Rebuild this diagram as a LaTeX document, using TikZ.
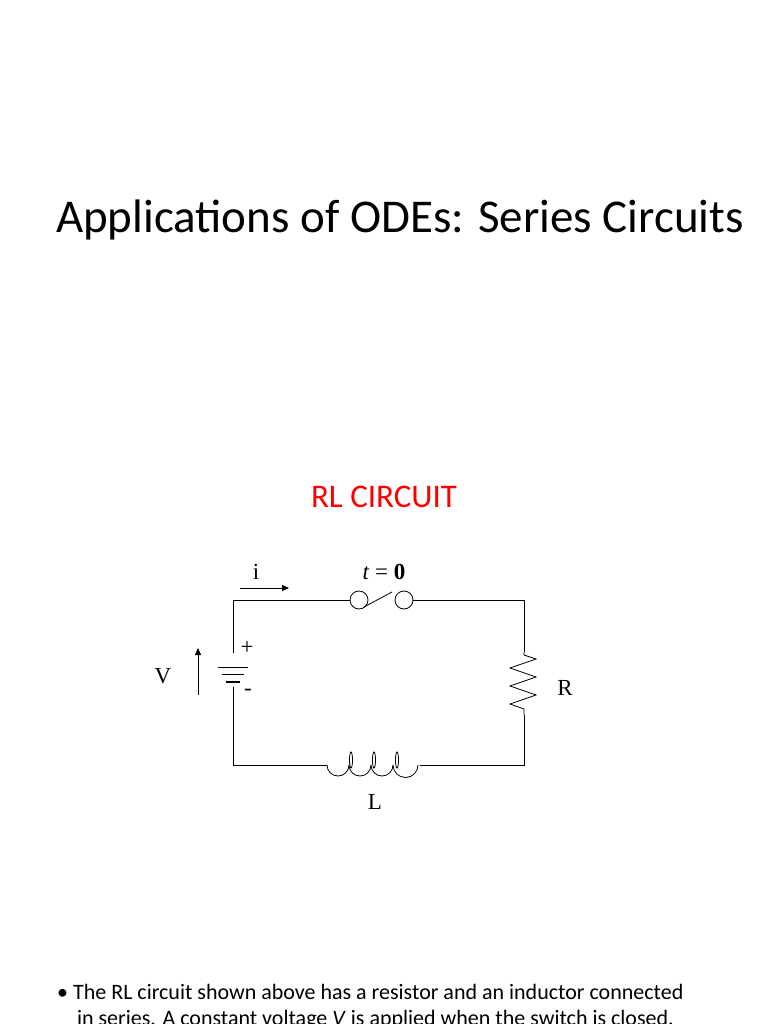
\documentclass[tikz,border=0pt]{standalone}
\usepackage{fontspec}
\setmainfont{Carlito}
\newfontfamily\circfont{Liberation Serif}
\usetikzlibrary{arrows.meta}
\tikzset{
  wire/.style = {line width = 0.8pt},
  serif/.style = {font = \fontsize{23}{23}\circfont}
}
\begin{document}
\begin{tikzpicture}[x = 1pt, y = -1pt]
\useasboundingbox (0,0) rectangle (768,1024);

\node (title) at (400,220) {\fontsize{47}{47}\selectfont Applications of ODEs: Series Circuits};
\node[text = red] (sub) at (384,497) {\fontsize{33}{33}\selectfont RL CIRCUIT};

% corners and component ends
\coordinate (tl) at (233,600);
\coordinate (tr) at (524,600);
\coordinate (bl) at (233,765);
\coordinate (br) at (524,765);
\coordinate (sw1) at (350,600);
\coordinate (sw2) at (413,600);
\coordinate (rtop) at (524,652);
\coordinate (rbot) at (524,715);
\coordinate (lleft) at (327,765);
\coordinate (lright) at (420,765);
\coordinate (btop) at (233,653);
\coordinate (bbot) at (233,687);

% wires
\draw [wire] (btop) -- (tl) -- (sw1);
\draw [wire] (sw2) -- (tr) -- (rtop);
\draw [wire] (rbot) -- (br) -- (lright);
\draw [wire] (lleft) -- (bl) -- (bbot);

% switch
\draw [wire] (359,600) circle (9);
\draw [wire] (404,600) circle (9);
\draw [wire] (364,607) -- (392,592);

% battery
\draw [wire] (218,667) -- (248,667);
\draw [wire] (222,674) -- (244,674);
\draw [line width = 2.5pt] (226,682) -- (240,682);

% resistor
\draw [wire] (rtop) -- (524,655) -- (536,659) -- (510,668) -- (536,677) -- (510,686) -- (536,695) -- (510,704) -- (524,709) -- (rbot);

% inductor
\draw [wire] (lleft) arc (180:0:11) coordinate (c1) (c1) arc (180:0:11) coordinate (c2)
  (c2) arc (180:0:11) coordinate (c3) (c3) arc (180:0:12.5);
\foreach \x in {351,374,397} {
  \draw [wire] (\x,760) ellipse (1.5 and 8);
}

% labels
\node[serif] (v) at (163,676) {V};
\node[serif] (i) at (256,572) {i};
\node[serif] (t) at (384,572) {\textit{t} = \textbf{0}};
\node[serif] (r) at (565,688) {R};
\node[serif] (l) at (375,802) {L};
\node[serif] (plus) at (247,648) {+};
\node[serif] (minus) at (248,692) {-};
\coordinate (va) at (198,695);
\coordinate (vb) at (198,648);
\draw [wire, -{Triangle[length=7pt,width=6pt]}] (va) -- (vb);
\coordinate (ia) at (240,588);
\coordinate (ib) at (289,588);
\draw [wire, -{Triangle[length=7pt,width=6pt]}] (ia) -- (ib);

\node[anchor = north west, align = left, inner sep = 0,
  font = \fontsize{22}{26}\selectfont] (bullet) at (57,984)
  {\textbullet\ The RL circuit shown above has a resistor and an inductor connected\\
   \hspace{0.9em}in series. A constant voltage \textit{V} is applied when the switch is closed.};
\end{tikzpicture}
\end{document}
